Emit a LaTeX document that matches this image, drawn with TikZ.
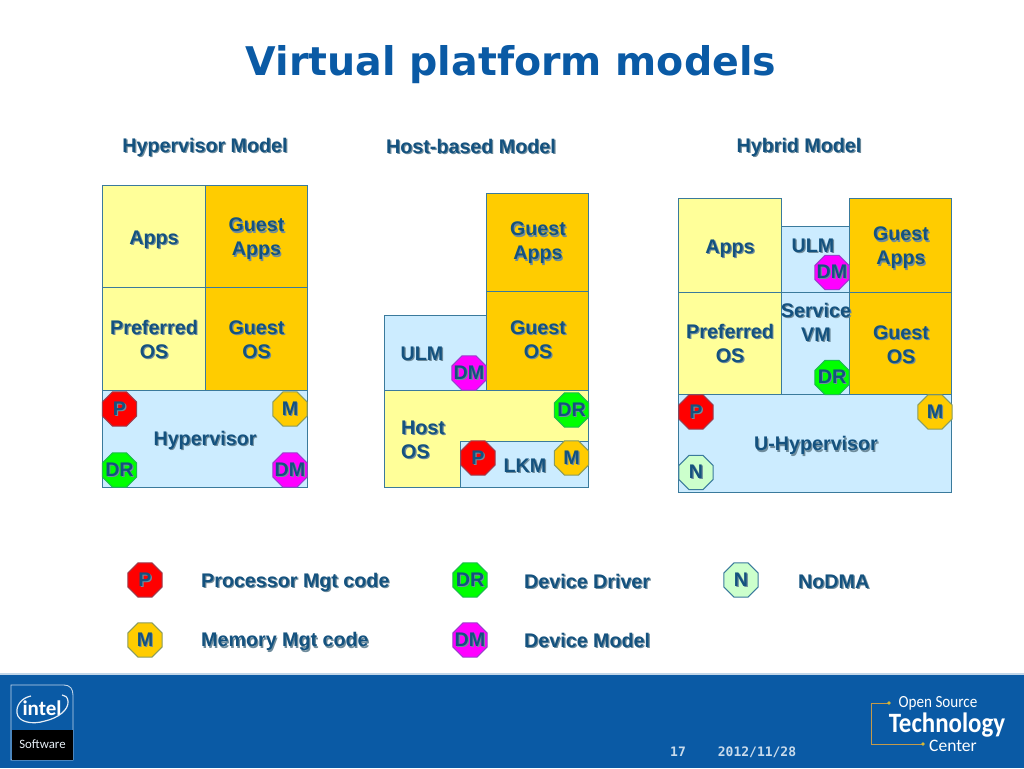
\documentclass[tikz,border=0pt]{standalone}
\usepackage{fontspec}
\setmainfont{Liberation Sans}
\newfontfamily\titlefont{DejaVu Sans}
\newfontfamily\monofont{DejaVu Sans Mono}
\newfontfamily\logofont{Carlito}
\newfontfamily\logonarrow[FakeStretch=0.89]{Carlito}
\usetikzlibrary{shapes.geometric}
\definecolor{tblue}{HTML}{14527F}
\definecolor{tshadow}{HTML}{6F8C9C}
\definecolor{band}{HTML}{0A5AA5}
\definecolor{cy}{HTML}{FFFF99}
\definecolor{co}{HTML}{FFCC00}
\definecolor{cb}{HTML}{CCECFF}
\definecolor{cr}{HTML}{FF0000}
\definecolor{cg}{HTML}{00FF00}
\definecolor{cm}{HTML}{FF00FF}
\definecolor{cn}{HTML}{CCFFCC}
\definecolor{edge}{HTML}{3A7A9C}
\definecolor{lorange}{HTML}{C49A4A}
\newcommand{\sh}[1]{\leavevmode\vrule width0pt height16pt depth4pt\rlap{\kern1.2pt\raisebox{-1.2pt}{\color{tshadow}#1}}#1}
\newcommand{\cell}[5]{\draw[cellbox,fill=#5] (#1,#2) rectangle (#3,#4);}
\newcommand{\oct}[6]{\node[octbox,fill=#4,draw=#5] (#1) at (#2,#3) {\makebox[0pt][c]{\raisebox{-1pt}{\sh{#6}}}};}
\tikzset{
  cellbox/.style={draw=edge,line width=1pt},
  octbox/.style={regular polygon,regular polygon sides=8,minimum size=37pt,inner sep=0pt,line width=1pt,text=tblue,font=\bfseries\fontsize{19.7}{24}\selectfont},
  lab/.style={text=tblue,font=\bfseries\fontsize{19.7}{24}\selectfont,align=center,inner sep=0pt},
  lableft/.style={lab,align=left,anchor=west},
}
\begin{document}
\begin{tikzpicture}[x=1pt,y=-1pt]
\useasboundingbox (0,0) rectangle (1024,768);
\fill[white] (0,0) rectangle (1024,768);
% title
\node[inner sep=0pt,text=band,font=\titlefont\bfseries\fontsize{39.5}{44}\selectfont] (title) at (511,65) {Virtual platform models};
% headings
\node[lab] (h1) at (205,147) {\sh{Hypervisor Model}};
\node[lab] (h2) at (471,147) {\sh{Host-based Model}};
\node[lab] (h3) at (799,147) {\sh{Hybrid Model}};
% model 1
\cell{102.5}{185}{205}{287.5}{cy}
\cell{205}{185}{307.5}{287.5}{co}
\cell{102.5}{287.5}{205}{390}{cy}
\cell{205}{287.5}{307.5}{390}{co}
\cell{102.5}{390}{307.5}{487}{cb}
\node[lab] (a1) at (154,239) {\sh{Apps}};
\node[lab] (a2) at (256.5,238.5) {\sh{Guest}\\\sh{Apps}};
\node[lab] (a3) at (154,340) {\sh{Preferred}\\\sh{OS}};
\node[lab] (a4) at (256.5,340) {\sh{Guest}\\\sh{OS}};
\node[lab] (a5) at (205,440) {\sh{Hypervisor}};
\oct{ap}{119.5}{409}{cr}{cr!50!edge}{P}
\oct{am}{290}{409}{co}{co!40!edge}{M}
\oct{adr}{119.5}{470}{cg}{cg!50!edge}{DR}
\oct{adm}{290}{470}{cm}{cm!50!edge}{DM}
% model 2
\cell{486}{193}{588.5}{291}{co}
\cell{486}{291}{588.5}{390}{co}
\cell{384}{315}{486}{390}{cb}
\cell{384}{390}{588.5}{487}{cy}
\cell{460.7}{441}{588.5}{487}{cb}
\node[lab] (b1) at (538,242.5) {\sh{Guest}\\\sh{Apps}};
\node[lab] (b2) at (538,340) {\sh{Guest}\\\sh{OS}};
\node[lab] (b3) at (422,354) {\sh{ULM}};
\node[lableft] (b4) at (401,440) {\sh{Host}\\\sh{OS}};
\node[lab] (b5) at (525,466.5) {\sh{LKM}};
\oct{bdm}{469}{373}{cm}{cm!50!edge}{DM}
\oct{bdr}{571.5}{410}{cg}{cg!50!edge}{DR}
\oct{bp}{478}{458}{cr}{cr!50!edge}{P}
\oct{bm}{571.5}{458}{co}{co!40!edge}{M}
% model 3
\cell{678.5}{198.5}{781}{292}{cy}
\cell{781}{226.5}{849}{292}{cb}
\cell{849}{198.5}{951.5}{292}{co}
\cell{678.5}{292}{781}{394.5}{cy}
\cell{781}{292}{849}{394.5}{cb}
\cell{849}{292}{951.5}{394.5}{co}
\cell{678.5}{394.5}{951.5}{492}{cb}
\node[lab] (c1) at (730,248) {\sh{Apps}};
\node[lab] (c2) at (813,246) {\sh{ULM}};
\node[lab] (c3) at (901,247.5) {\sh{Guest}\\\sh{Apps}};
\node[lab] (c4) at (730,344.5) {\sh{Preferred}\\\sh{OS}};
\node[lab] (c5) at (816,323.5) {\sh{Service}\\\sh{VM}};
\node[lab] (c6) at (901,345.5) {\sh{Guest}\\\sh{OS}};
\node[lab] (c7) at (816,445.5) {\sh{U-Hypervisor}};
\oct{cdm}{832}{272.5}{cm}{cm!50!edge}{DM}
\oct{cdr}{832}{377.5}{cg}{cg!50!edge}{DR}
\oct{cp}{696}{412}{cr}{cr!50!edge}{P}
\oct{cmm}{935}{412}{co}{co!40!edge}{M}
\oct{cnn}{696}{472.5}{cn}{edge}{N}
% legend
\oct{lp}{145}{580}{cr}{cr!50!edge}{P}
\oct{lm}{145}{640}{co}{co!40!edge}{M}
\oct{ldr}{470}{580}{cg}{cg!50!edge}{DR}
\oct{ldm}{470}{640}{cm}{cm!50!edge}{DM}
\oct{ln}{741}{580}{cn}{edge}{N}
\node[lableft] (t1) at (201,582) {\sh{Processor Mgt code}};
\node[lableft] (t2) at (201,641.5) {\sh{Memory Mgt code}};
\node[lableft] (t3) at (524,582) {\sh{Device Driver}};
\node[lableft] (t4) at (524,641.5) {\sh{Device Model}};
\node[lableft] (t5) at (798,582) {\sh{NoDMA}};
% footer
\fill[band!25!white] (0,672.5) rectangle (1024,675);
\fill[band] (0,675) rectangle (1024,768);
% intel logo
\draw[white!75!band,line width=0.9pt,fill=band] (11,760) -- (11,685) -- (64,685) .. controls (70,685) and (73,689) .. (73,695) -- (73,760) -- cycle;
\fill[black] (11.5,730) rectangle (72.5,759.5);
\node[inner sep=0pt,text=white,font=\logofont\bfseries\fontsize{21}{24}\selectfont] (intel) at (42,708) {intel};
\draw[white!90!band,line width=1.2pt] (31,696) .. controls (21,698) and (16,706) .. (17,713) .. controls (18,722) and (32,725) .. (45,721) .. controls (58,718) and (69,710) .. (68,701) .. controls (67.5,697) and (65,695) .. (62,695);
\node[inner sep=0pt,text=white!90!band,font=\logofont\fontsize{12.8}{15}\selectfont] (soft) at (42.5,744.5) {Software};
% page no
\node[inner sep=0pt,text=white!78!band,font=\monofont\bfseries\fontsize{13}{15}\selectfont] (pg) at (678,752) {17};
\node[inner sep=0pt,text=white!78!band,font=\monofont\bfseries\fontsize{13}{15}\selectfont] (dt) at (757,752) {2012/11/28};
% OSTC logo
\node[inner sep=0pt,text=white,font=\logonarrow\fontsize{17}{18}\selectfont] (os) at (938,703.5) {Open Source};
\node[inner sep=0pt,text=white,font=\logonarrow\bfseries\fontsize{28}{28}\selectfont] (tech) at (947,725) {Technology};
\node[inner sep=0pt,text=white,font=\logofont\fontsize{17.5}{18}\selectfont] (ctr) at (953,746) {Center};
\coordinate (bra) at (889,703);
\coordinate (brb) at (923,744);
\draw[lorange,line width=1pt] (bra) -- (871,703) -- (871,744) -- (brb);
\fill[lorange!70!yellow] (bra) circle (1.8);
\fill[lorange!70!yellow] (brb) circle (1.8);
\end{tikzpicture}
\end{document}
